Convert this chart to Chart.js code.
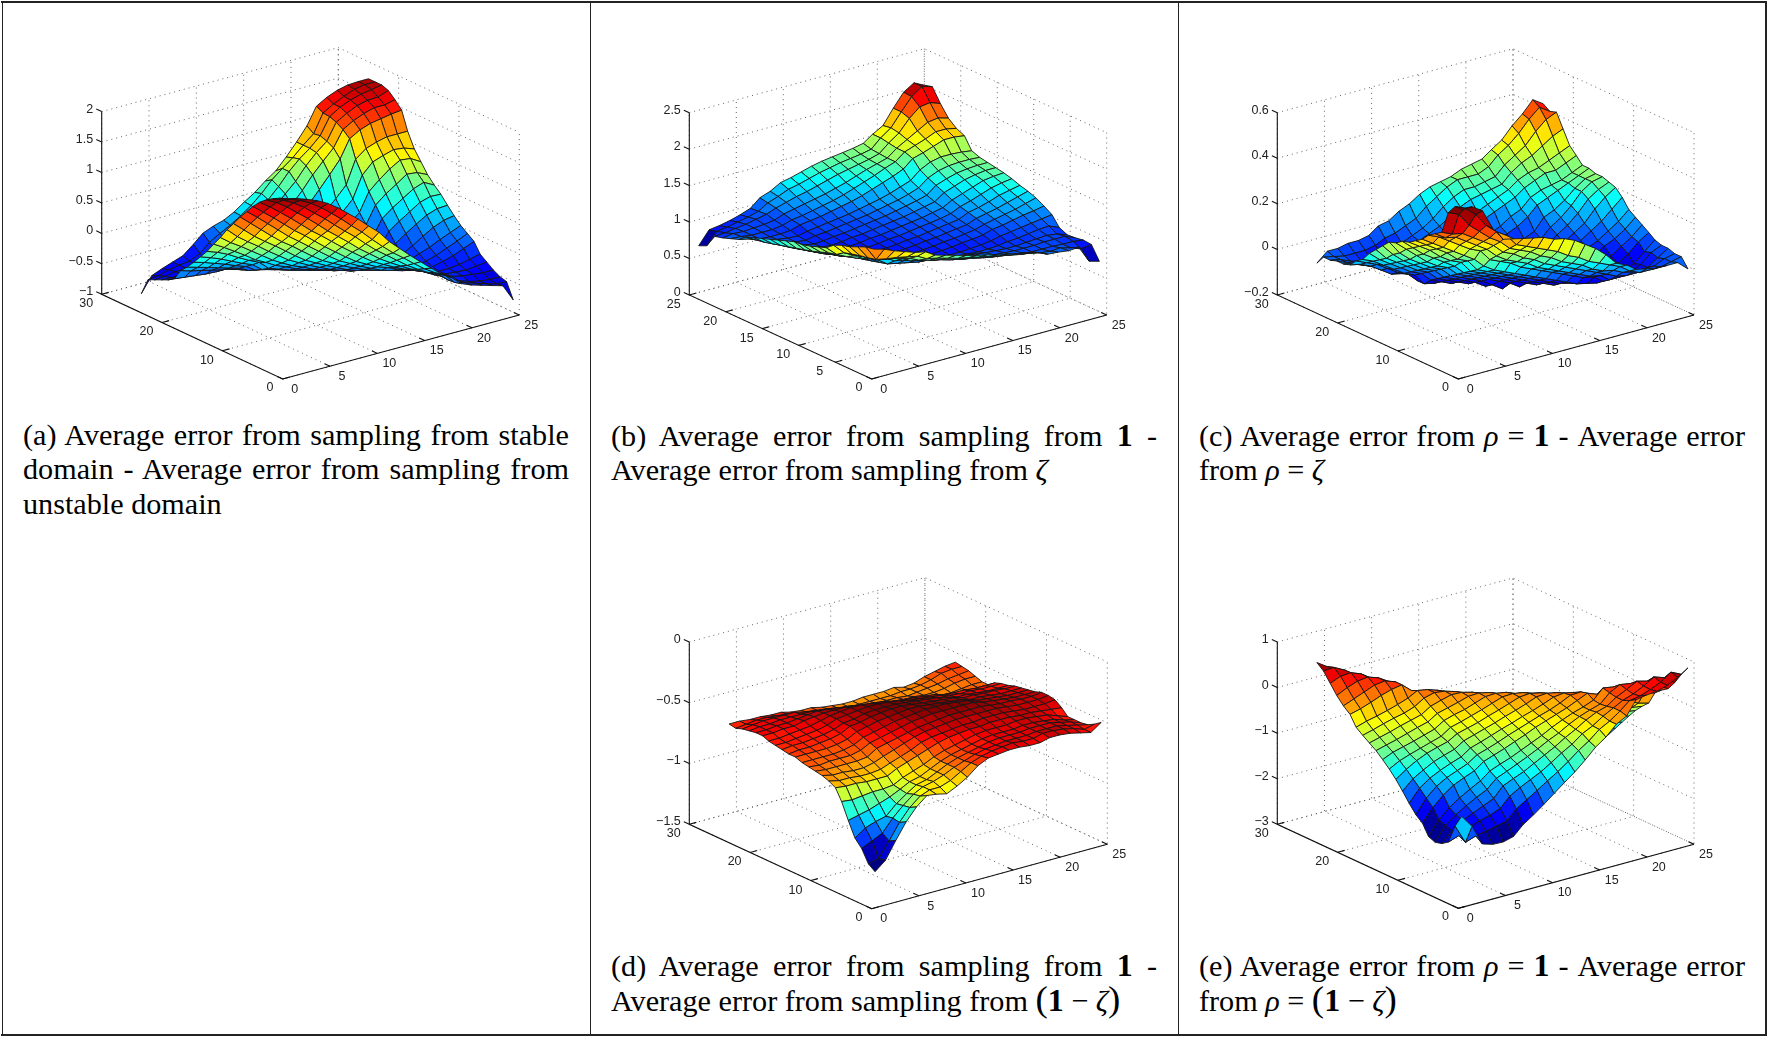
<!DOCTYPE html>
<html>
<head>
<meta charset="utf-8">
<title>Average error surfaces</title>
<script src="https://cdn.jsdelivr.net/npm/chart.js@4/dist/chart.umd.min.js"></script>
<style>
html,body{margin:0;padding:0;background:#fff;}
body{position:relative;width:1770px;height:1040px;overflow:hidden;font-family:"Liberation Serif",serif;color:#000;}
canvas{position:absolute;}
.rule{position:absolute;background:#222;}
.cap{position:absolute;width:546px;font-size:30.2px;line-height:34.4px;}
.cap div{white-space:nowrap;}
.cap .just{text-align:justify;text-align-last:justify;white-space:normal;}
.cap .big{font-size:1.22em;line-height:0;}
.cap b{font-size:1.06em;}
.cap i{font-style:italic;}
</style>
</head>
<body>
<div class="rule" style="left:1px;top:1px;width:1765px;height:1.5px"></div>
<div class="rule" style="left:1px;top:1034px;width:1765px;height:1.5px"></div>
<div class="rule" style="left:1.5px;top:1px;width:1.5px;height:1035px"></div>
<div class="rule" style="left:589.5px;top:1px;width:1.5px;height:1035px"></div>
<div class="rule" style="left:1177.5px;top:1px;width:1.5px;height:1035px"></div>
<div class="rule" style="left:1765px;top:1px;width:1.5px;height:1035px"></div>

<div class="cap" style="left:23px;top:418px">
  <div class="just">(a) Average error from sampling from stable</div>
  <div class="just">domain - Average error from sampling from</div>
  <div>unstable domain</div>
</div>
<div class="cap" style="left:611px;top:418px">
  <div class="just">(b) Average error from sampling from <b>1</b> -</div>
  <div>Average error from sampling from <i>ζ</i></div>
</div>
<div class="cap" style="left:1199px;top:418px">
  <div class="just">(c) Average error from <i>ρ</i> = <b>1</b> - Average error</div>
  <div>from <i>ρ</i> = <i>ζ</i></div>
</div>
<div class="cap" style="left:611px;top:948px">
  <div class="just">(d) Average error from sampling from <b>1</b> -</div>
  <div>Average error from sampling from <span class="big">(</span><b>1</b> − <i>ζ</i><span class="big">)</span></div>
</div>
<div class="cap" style="left:1199px;top:948px">
  <div class="just">(e) Average error from <i>ρ</i> = <b>1</b> - Average error</div>
  <div>from <i>ρ</i> = <span class="big">(</span><b>1</b> − <i>ζ</i><span class="big">)</span></div>
</div>

<script>
const xTicks = [0,5,10,15,20,25];
const yTicks30 = [0,10,20,30];
const yTicks25 = [0,5,10,15,20,25];
const zTicksA = [-1,-0.5,0,0.5,1,1.5,2];
const zTicksB = [0,0.5,1,1.5,2,2.5];
const zTicksC = [-0.2,0,0.2,0.4,0.6];
const zTicksD = [-1.5,-1,-0.5,0];
const zTicksE = [-3,-2,-1,0,1];

// mesh positions along x and y
const meshPos = [1,2.1,3.2,4.3,5.4,6.5,7.5,8.6,9.7,10.8,11.9,13,14.1,15.2,16.3,17.4,18.5,19.5,20.6,21.7,22.8,23.9,25];

// surface heights x100, one row per meshPos in y, one column per meshPos in x
const surfaceA = [
[185,183,177,170,161,149,136,122,106,91,71,55,39,24,9,-5,-16,-30,-37,-42,-47,-52,-80],
[183,177,170,161,149,135,122,106,91,74,58,43,30,16,3,-8,-17,-33,-38,-44,-49,-54,-55],
[177,170,161,149,135,121,107,92,78,62,47,34,21,8,-3,-13,-21,-34,-40,-46,-50,-52,-52],
[170,161,149,135,121,106,92,78,64,49,36,23,12,2,-8,-16,-23,-33,-38,-42,-44,-46,-46],
[161,149,135,121,106,91,79,65,51,38,25,13,4,-5,-13,-20,-26,-36,-39,-41,-42,-40,-38],
[149,135,121,106,91,78,65,51,38,25,13,4,-5,-11,-18,-24,-29,-38,-40,-40,-38,-34,-30],
[136,122,107,92,77,64,52,39,26,14,5,-4,-12,-20,-25,-30,-34,-40,-37,-33,-28,-21,-14],
[122,107,92,77,63,51,39,26,14,5,-4,-12,-19,-25,-29,-33,-36,-37,-33,-28,-21,-14,-6],
[106,91,76,63,51,38,26,14,5,-4,-12,-20,-26,-30,-34,-37,-40,-32,-26,-20,-12,-5,2],
[91,75,62,50,37,25,14,5,-4,-12,-20,-26,-32,-35,-37,-41,-38,-27,-18,-7,3,10,13],
[73,60,49,37,25,13,4,-5,-12,-20,-26,-32,-36,-40,-42,-38,-34,-15,-3,8,18,24,25],
[57,47,36,25,13,4,-5,-12,-20,-26,-32,-36,-40,-42,-38,-33,-24,0,12,23,34,39,38],
[40,34,26,16,7,-1,-15,-21,-27,-32,-37,-40,-42,-38,-32,-22,-10,16,29,40,51,57,48],
[26,20,13,5,-3,-10,-22,-27,-32,-37,-40,-42,-38,-32,-22,-10,5,33,47,58,70,68,60],
[12,7,1,-5,-12,-18,-28,-32,-36,-40,-42,-38,-32,-22,-10,5,20,50,65,78,88,86,76],
[-1,-6,-11,-16,-21,-26,-34,-37,-40,-41,-38,-31,-21,-9,6,20,37,72,89,95,100,98,92],
[-12,-17,-21,-25,-29,-32,-38,-40,-40,-36,-30,-20,-8,6,21,37,55,93,106,112,116,116,116],
[-30,-32,-34,-36,-37,-37,-42,-38,-33,-23,-12,2,16,33,52,72,93,122,132,138,141,144,146],
[-37,-38,-39,-39,-38,-40,-38,-33,-23,-12,1,15,31,50,71,89,106,132,142,149,154,154,158],
[-42,-43,-42,-40,-40,-42,-34,-24,-13,-1,12,26,44,60,81,98,112,139,149,157,161,162,168],
[-47,-46,-43,-42,-42,-38,-26,-16,-5,6,19,34,51,71,87,100,116,143,154,161,166,169,172],
[-52,-50,-45,-42,-40,-32,-18,-8,1,12,24,39,57,71,84,100,114,144,154,162,169,172,172],
[-80,-55,-48,-42,-36,-22,-8,-1,4,13,25,36,50,62,80,100,122,150,160,167,171,172,172]
];
const surfaceB = [
[170,166,160,155,150,147,139,135,131,127,123,120,116,113,110,107,104,98,97,95,96,73,69],
[168,147,144,142,139,136,129,126,122,118,115,112,109,106,103,100,98,95,93,94,90,85,87],
[163,144,138,135,132,128,122,118,115,111,108,105,102,99,97,95,93,91,91,91,90,90,88],
[158,142,135,130,127,124,116,113,109,106,102,99,97,95,93,92,91,91,91,92,92,92,86],
[155,139,132,127,122,120,114,110,107,103,100,97,95,93,91,90,89,89,90,91,92,90,85],
[150,136,128,124,120,113,106,103,99,95,92,90,89,88,87,87,88,90,91,93,95,96,90],
[142,129,122,116,112,106,97,94,91,88,87,86,86,86,87,88,90,93,95,97,99,101,103],
[138,126,118,113,108,103,94,90,88,87,86,86,87,88,90,91,93,97,99,102,105,107,110],
[134,122,115,109,105,99,91,88,87,86,86,87,88,90,91,93,95,99,102,105,108,112,116],
[131,118,111,106,101,95,88,87,86,86,87,88,90,91,93,95,97,102,105,108,112,116,120],
[130,115,108,102,97,92,87,86,86,87,88,90,91,93,95,97,99,105,108,112,117,120,123],
[126,112,105,99,95,90,86,86,87,88,90,91,93,95,97,99,102,108,112,117,122,125,127],
[122,109,102,97,93,89,86,87,88,90,91,93,95,97,99,102,105,112,117,122,127,129,130],
[118,106,99,95,91,88,87,88,90,91,93,95,97,99,102,105,108,117,122,127,130,132,132],
[114,103,97,93,90,87,88,90,91,93,95,97,99,102,105,108,112,122,127,131,133,134,134],
[110,100,95,92,89,87,90,91,93,95,97,99,102,105,108,112,117,127,133,136,137,137,136],
[106,98,93,91,89,88,91,93,95,97,99,102,105,108,112,117,122,133,140,143,143,142,140],
[98,95,91,90,90,91,95,97,99,102,105,108,112,117,122,127,133,144,148,153,158,158,156],
[94,93,91,91,91,93,97,99,102,105,108,112,117,122,127,133,138,148,153,158,164,164,161],
[90,92,91,92,93,95,100,103,106,109,112,116,120,125,130,134,138,148,156,164,172,174,170],
[87,88,90,92,95,98,103,107,111,114,118,122,126,129,132,135,139,150,160,176,188,190,185],
[69,85,87,90,93,97,105,110,116,119,123,127,130,133,135,137,140,152,162,180,197,207,203],
[64,82,84,87,91,96,107,112,120,123,127,131,134,136,138,140,143,152,160,180,198,207,200]
];
const surfaceC = [
[52,52,49,40,34,33,32,31,30,28,27,25,22,19,15,10,8,5,4,3,3,3,-1],
[52,50,46,40,36,33,28,26,24,22,20,17,15,12,10,8,6,3,1,1,1,2,3],
[48,46,40,36,32,29,25,23,21,18,16,13,11,9,6,4,3,1,0,0,0,2,3],
[38,36,35,32,29,26,22,20,17,15,12,10,8,6,4,2,0,-2,-3,-3,-2,1,4],
[36,33,32,29,26,23,19,16,14,12,9,7,5,3,1,-1,-2,-5,-5,-4,-2,2,4],
[34,32,29,26,23,21,16,14,12,9,7,5,3,1,-1,-3,-4,-7,-7,-5,-3,1,5],
[31,28,25,22,19,16,12,9,7,5,3,1,-1,-3,-5,-7,-8,-9,-7,-3,0,4,7],
[29,26,23,20,16,14,9,7,5,3,1,-1,-3,-5,-7,-8,-9,-8,-4,-1,2,5,9],
[27,24,21,17,14,12,7,5,3,1,-1,-3,-5,-7,-9,-9,-9,-5,-1,2,4,7,11],
[26,22,18,15,12,9,5,3,1,-1,-3,-5,-7,-9,-9,-7,-4,-2,1,3,6,9,13],
[24,20,16,12,9,7,3,1,-1,-3,-5,-7,-10,-9,-7,-4,-2,0,3,6,9,13,17],
[23,17,13,10,7,5,1,-1,-3,-5,-8,-11,-9,-7,-4,-2,0,2,5,8,13,17,20],
[20,15,11,8,5,3,-1,-3,-5,-7,-10,-9,-7,-4,-2,0,1,4,7,11,16,19,21],
[17,12,9,6,3,1,-3,-5,-7,-9,-9,-7,-4,-2,-1,0,2,6,9,13,18,21,22],
[14,10,7,4,1,-1,-5,-7,-9,-9,-9,-8,-5,-2,0,2,4,9,11,14,18,21,22],
[10,8,5,2,-1,-3,-8,-9,-9,-8,-5,-2,0,2,4,6,9,13,15,17,19,21,23],
[8,6,4,1,-2,-4,-8,-9,-8,-5,-2,0,2,4,6,9,11,15,17,18,19,21,23],
[5,4,2,-1,-4,-5,-6,-4,-2,0,2,4,6,9,11,13,15,18,20,22,22,24,26],
[4,3,1,-1,-3,-4,-4,-2,1,3,5,7,9,11,13,15,17,20,22,23,25,27,29],
[4,2,0,-1,-2,-2,-1,1,3,5,7,10,13,15,16,17,18,22,25,27,30,33,35],
[3,2,0,-1,-2,-2,0,2,4,6,9,13,16,18,18,19,20,24,27,30,35,39,41],
[3,2,1,1,1,2,4,5,7,9,13,16,19,21,21,21,23,27,30,34,39,43,40],
[-1,3,3,4,4,5,8,9,12,14,17,19,20,21,23,24,25,28,31,36,40,45,42]
];
const surfaceD = [
[-124,-117,-103,-90,-80,-73,-74,-76,-72,-67,-60,-56,-55,-54,-54,-55,-55,-53,-53,-54,-56,-58,-52],
[-120,-118,-106,-93,-83,-76,-73,-73,-70,-65,-60,-57,-55,-54,-53,-54,-54,-52,-52,-53,-55,-58,-56],
[-110,-106,-102,-92,-84,-77,-73,-71,-68,-64,-61,-58,-56,-55,-54,-54,-54,-53,-53,-53,-55,-57,-59],
[-104,-98,-95,-93,-85,-79,-74,-72,-68,-64,-61,-59,-57,-55,-54,-54,-54,-53,-53,-53,-55,-57,-60],
[-92,-90,-88,-85,-82,-78,-74,-72,-68,-64,-61,-59,-57,-55,-54,-54,-54,-53,-53,-54,-55,-58,-60],
[-79,-80,-79,-78,-78,-77,-73,-70,-67,-63,-60,-58,-56,-54,-53,-53,-53,-52,-52,-53,-54,-57,-60],
[-70,-71,-71,-72,-72,-72,-68,-65,-62,-59,-56,-54,-53,-52,-52,-51,-51,-51,-52,-52,-53,-54,-55],
[-67,-69,-69,-70,-70,-69,-66,-63,-60,-56,-54,-53,-52,-51,-51,-50,-50,-50,-51,-52,-52,-52,-51],
[-65,-67,-67,-68,-68,-66,-63,-60,-57,-54,-52,-51,-50,-49,-49,-49,-49,-49,-50,-51,-51,-51,-50],
[-64,-65,-65,-65,-65,-64,-59,-57,-55,-53,-51,-50,-49,-48,-48,-48,-48,-49,-50,-50,-51,-51,-50],
[-63,-64,-63,-63,-63,-61,-57,-55,-53,-51,-49,-48,-47,-47,-47,-47,-47,-49,-50,-51,-52,-52,-52],
[-62,-62,-62,-62,-61,-59,-55,-53,-51,-49,-48,-47,-46,-46,-46,-47,-48,-50,-51,-52,-53,-53,-53],
[-60,-60,-60,-60,-59,-57,-53,-51,-49,-48,-47,-46,-46,-47,-48,-49,-50,-52,-52,-53,-54,-54,-54],
[-60,-59,-59,-58,-57,-55,-51,-50,-48,-47,-46,-46,-47,-48,-49,-50,-51,-53,-53,-54,-54,-55,-55],
[-59,-58,-58,-57,-56,-54,-51,-50,-48,-47,-47,-47,-48,-49,-50,-51,-53,-55,-55,-56,-57,-57,-57],
[-58,-58,-57,-56,-55,-53,-50,-49,-48,-47,-47,-48,-49,-51,-52,-53,-54,-56,-57,-57,-58,-58,-58],
[-57,-57,-56,-55,-54,-52,-50,-49,-48,-48,-49,-50,-52,-53,-54,-55,-56,-58,-59,-59,-60,-60,-60],
[-55,-55,-54,-54,-52,-51,-50,-50,-50,-51,-53,-55,-56,-58,-59,-60,-62,-65,-65,-65,-64,-64,-64],
[-55,-55,-54,-54,-53,-52,-51,-52,-53,-54,-56,-58,-60,-61,-62,-63,-64,-66,-66,-66,-65,-64,-64],
[-56,-55,-55,-54,-54,-54,-54,-55,-56,-58,-60,-62,-63,-64,-65,-65,-65,-66,-66,-65,-63,-62,-62],
[-57,-56,-55,-55,-55,-55,-57,-58,-60,-61,-63,-64,-65,-66,-66,-66,-67,-66,-65,-64,-62,-61,-60],
[-59,-58,-57,-57,-58,-59,-61,-62,-63,-64,-66,-67,-67,-67,-67,-67,-66,-66,-65,-63,-60,-59,-59],
[-58,-58,-59,-59,-60,-60,-62,-63,-63,-65,-66,-67,-67,-66,-66,-66,-65,-67,-66,-63,-61,-59,-58]
];
const surfaceE = [
[-110,-138,-183,-190,-191,-185,-165,-150,-133,-115,-97,-80,-60,-38,-22,0,12,42,46,48,55,66,81],
[-138,-180,-172,-168,-163,-158,-137,-123,-109,-94,-80,-64,-46,-31,-12,0,16,33,37,45,55,71,60],
[-180,-172,-160,-152,-146,-137,-116,-103,-92,-81,-67,-52,-39,-22,-11,4,16,27,35,46,60,52,35],
[-190,-168,-152,-142,-132,-122,-100,-90,-81,-69,-57,-45,-31,-19,-5,6,13,27,38,50,44,30,15],
[-194,-163,-146,-132,-120,-109,-90,-81,-71,-61,-50,-38,-28,-15,-4,4,11,30,42,38,28,14,5],
[-188,-158,-137,-122,-109,-97,-81,-72,-64,-54,-44,-34,-22,-12,-3,4,13,34,30,22,10,0,-8],
[-165,-137,-116,-100,-90,-81,-66,-58,-50,-41,-32,-22,-14,-6,2,12,22,14,2,-10,-20,-30,-36],
[-153,-123,-103,-90,-81,-72,-58,-51,-43,-34,-26,-18,-10,-3,6,17,18,1,-12,-26,-38,-46,-50],
[-135,-108,-92,-81,-72,-64,-50,-43,-35,-27,-20,-12,-5,3,12,15,10,-12,-26,-42,-55,-62,-66],
[-115,-94,-81,-69,-61,-54,-41,-34,-27,-20,-12,-5,3,12,14,9,0,-26,-42,-58,-70,-78,-85],
[-96,-80,-67,-57,-50,-44,-32,-26,-20,-12,-5,3,11,13,8,0,-12,-42,-60,-76,-88,-98,-105],
[-80,-68,-60,-53,-46,-39,-25,-19,-12,-5,3,11,12,8,0,-12,-25,-60,-78,-94,-108,-118,-125],
[-66,-56,-50,-44,-37,-30,-17,-10,-5,3,11,12,8,-1,-12,-25,-42,-78,-96,-112,-125,-136,-145],
[-53,-47,-41,-34,-27,-21,-8,-2,4,11,12,7,-2,-13,-26,-42,-60,-96,-114,-128,-142,-155,-165],
[-43,-37,-31,-24,-18,-12,1,8,14,13,7,-2,-13,-26,-42,-60,-78,-114,-130,-146,-160,-172,-180],
[-33,-27,-20,-14,-9,-1,12,18,15,8,-2,-14,-28,-44,-60,-78,-96,-130,-146,-160,-172,-180,-188],
[-22,-15,-10,-4,3,11,22,18,10,-2,-14,-28,-44,-60,-78,-96,-114,-146,-160,-172,-180,-188,-192],
[0,6,14,23,30,34,16,4,-10,-26,-42,-60,-78,-96,-114,-130,-146,-172,-180,-188,-192,-195,-197],
[12,21,30,39,42,34,8,-8,-26,-42,-60,-78,-96,-114,-130,-146,-160,-180,-188,-192,-195,-197,-198],
[28,39,47,50,42,28,-6,-26,-44,-62,-80,-98,-114,-130,-146,-160,-172,-188,-192,-195,-197,-198,-199],
[48,57,59,50,34,15,-26,-46,-64,-82,-100,-118,-134,-150,-162,-172,-180,-192,-195,-197,-198,-199,-199],
[68,70,58,38,16,-6,-48,-68,-86,-104,-122,-138,-152,-164,-174,-182,-188,-195,-197,-198,-199,-199,-199],
[80,65,42,18,-6,-30,-72,-90,-108,-124,-140,-154,-166,-176,-184,-190,-194,-198,-199,-199,-199,-199,-199]
];

const panels = [
  {surface:surfaceA, yTicks:yTicks30, zTicks:zTicksA, box:[4,4,584,412],   F:[282.7,379],   R:[519.3,315],  L:[101.7,294.3], H:182.7},
  {surface:surfaceB, yTicks:yTicks25, zTicks:zTicksB, box:[592,4,584,412], F:[871.7,379],   R:[1106.7,315], L:[689.3,295],   H:182.3},
  {surface:surfaceC, yTicks:yTicks30, zTicks:zTicksC, box:[1180,4,584,412],F:[1458.3,379],  R:[1694,315],   L:[1277.3,295],  H:182.3},
  {surface:surfaceD, yTicks:yTicks30, zTicks:zTicksD, box:[592,534,584,412],F:[871.7,908.7],R:[1107.3,844.3],L:[689.3,824.3],H:182.3},
  {surface:surfaceE, yTicks:yTicks30, zTicks:zTicksE, box:[1180,534,584,412],F:[1458.3,908.3],R:[1694,844.3],L:[1277.3,824.3],H:182.3}
];

const clamp = (v) => Math.max(0, Math.min(1, v));
const last = (a) => a[a.length-1];

function jet(t){
  const q = Math.floor(clamp(t)*63.999)/63;
  const r = clamp(Math.min(4*q-1.5, -4*q+4.5));
  const g = clamp(Math.min(4*q-0.5, -4*q+3.5));
  const b = clamp(Math.min(4*q+0.5, -4*q+2.5));
  return `rgb(${Math.round(r*255)},${Math.round(g*255)},${Math.round(b*255)})`;
}

function projector(p){
  const xMax = last(xTicks), yMax = last(p.yTicks), zMin = p.zTicks[0], zMax = last(p.zTicks);
  return (x,y,z) => {
    const u = x/xMax, v = y/yMax, w = (z-zMin)/(zMax-zMin);
    return {
      x: p.F[0] + u*(p.R[0]-p.F[0]) + v*(p.L[0]-p.F[0]),
      y: p.F[1] + u*(p.R[1]-p.F[1]) + v*(p.L[1]-p.F[1]) - w*p.H
    };
  };
}

function lineSet(data, color, width, dash){
  return {data, showLine:true, fill:false, borderColor:color, borderWidth:width, borderDash:dash||[], pointRadius:0, tension:0};
}

function boxSets(p, to){
  const xMax = last(xTicks), yMax = last(p.yTicks), zMin = p.zTicks[0], zMax = last(p.zTicks);
  const sets = [];
  const grid = (pts) => sets.push(lineSet(pts, '#555', 0.9, [1,4]));
  xTicks.forEach(x => {
    grid([to(x,0,zMin), to(x,yMax,zMin), to(x,yMax,zMax)]);
  });
  p.yTicks.forEach(y => {
    grid([to(0,y,zMin), to(xMax,y,zMin), to(xMax,y,zMax)]);
  });
  p.zTicks.forEach(z => {
    grid([to(0,yMax,z), to(xMax,yMax,z), to(xMax,0,z)]);
  });
  const ink = (pts) => sets.push(lineSet(pts, '#111', 1.1));
  ink([to(0,yMax,zMax), to(0,yMax,zMin), to(0,0,zMin), to(xMax,0,zMin)]);
  xTicks.forEach(x => ink([to(x,0,zMin), to(x,yMax*0.03,zMin)]));
  p.yTicks.forEach(y => ink([to(0,y,zMin), to(xMax*0.03,y,zMin)]));
  p.zTicks.forEach(z => ink([to(0,yMax,z), to(0,yMax*1.03,z)]));
  return sets;
}

function surfaceSets(p, to){
  const rows = p.surface, n = rows.length;
  const all = rows.flat();
  const lo = Math.min(...all), hi = Math.max(...all);
  const sets = [];
  // back corner first, front corner last, so nearer cells paint over farther ones
  for(let k = 2*(n-2); k >= 0; k--){
    for(let j = 0; j < n-1; j++){
      const i = k-j;
      if(i < 0 || i > n-2) continue;
      const corners = [[i,j],[i+1,j],[i+1,j+1],[i,j+1],[i,j]];
      const data = corners.map(([a,b]) => to(meshPos[a], meshPos[b], rows[b][a]/100));
      sets.push({
        data, showLine:true, fill:'shape', tension:0, pointRadius:0,
        backgroundColor: jet((rows[j][i]-lo)/(hi-lo)),
        borderColor:'#151515', borderWidth:0.9
      });
    }
  }
  return sets;
}

function tickLabels(p, to){
  const yMax = last(p.yTicks), zMin = p.zTicks[0];
  const fmt = (v) => String(v).replace('-','\u2212');
  return {
    id:'tickLabels',
    afterDatasetsDraw(chart){
      const {ctx, scales} = chart;
      const put = (text, pt, dx, dy, align) => {
        ctx.textAlign = align;
        ctx.fillText(text, scales.x.getPixelForValue(pt.x)+dx, scales.y.getPixelForValue(pt.y)+dy);
      };
      ctx.save();
      ctx.font = '12.5px "Liberation Sans"';
      ctx.fillStyle = '#222';
      ctx.textBaseline = 'middle';
      xTicks.forEach(x => put(fmt(x), to(x,0,zMin), 12, 10.3, 'center'));
      p.yTicks.forEach(y => put(fmt(y), to(0,y,zMin), y ? -15.5 : -12.7, y ? 9.5 : 8.7, 'center'));
      p.zTicks.forEach(z => put(fmt(z), to(0,yMax,z), -8.5, -2.5, 'right'));
      ctx.restore();
    }
  };
}

panels.forEach(p => {
  const [left, top, w, h] = p.box;
  const canvas = document.createElement('canvas');
  canvas.width = w; canvas.height = h;
  canvas.style.cssText = `left:${left}px;top:${top}px;width:${w}px;height:${h}px`;
  document.body.appendChild(canvas);
  const to = projector(p);
  const drawList = [...boxSets(p,to), ...surfaceSets(p,to)];
  drawList.forEach((d,i) => { d.order = drawList.length-i; });
  new Chart(canvas, {
    type:'scatter',
    data:{datasets:drawList},
    options:{
      responsive:false, animation:false, events:[], normalized:true,
      layout:{padding:0},
      scales:{
        x:{type:'linear', display:false, min:left, max:left+w},
        y:{type:'linear', display:false, reverse:true, min:top, max:top+h}
      },
      plugins:{legend:{display:false}, tooltip:{enabled:false}, title:{display:false}}
    },
    plugins:[tickLabels(p,to)]
  });
});
</script>
</body>
</html>
